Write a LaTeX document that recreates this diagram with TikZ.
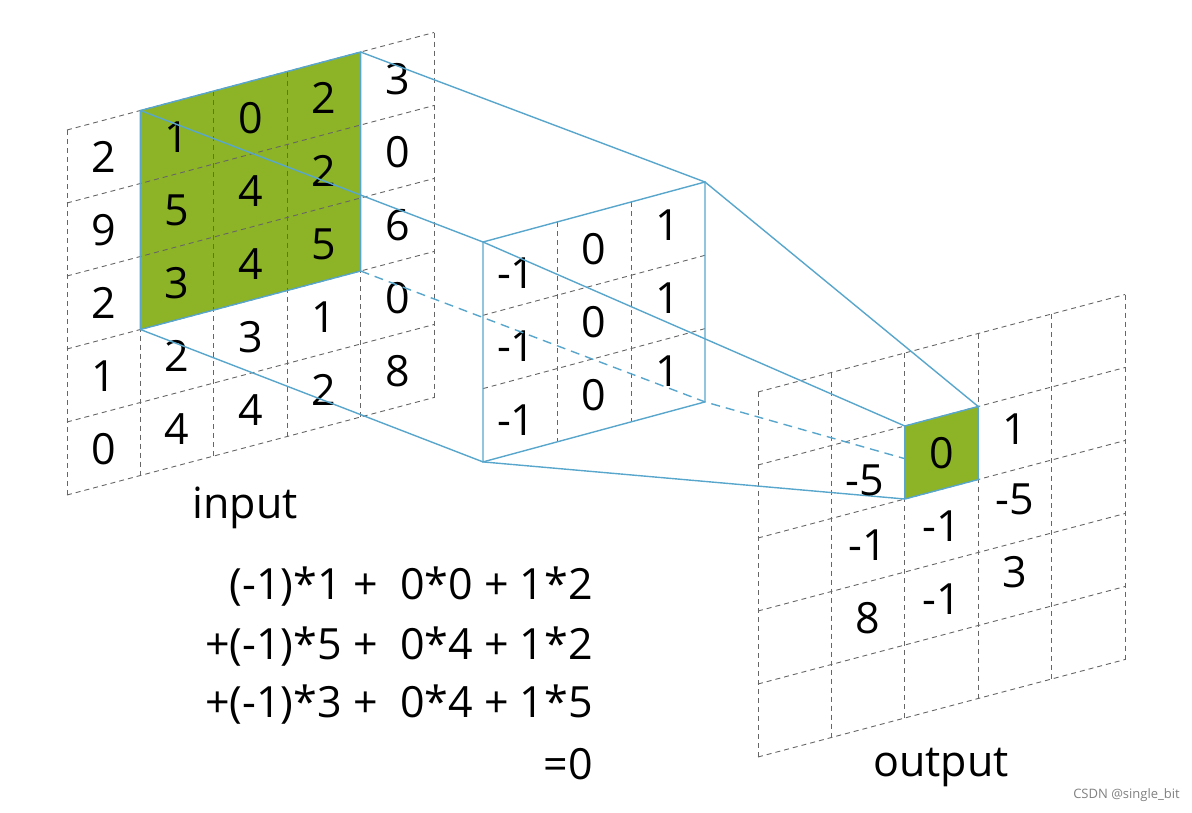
\documentclass[tikz,border=0pt]{standalone}
\usepackage{fontspec}
\setmainfont{Open Sans}
\begin{document}
\begin{tikzpicture}[x=1pt,y=1pt,
  grid/.style={gray!80!black,dash pattern=on 5pt off 4pt,line width=0.9pt},
  num/.style={font=\fontsize{43}{46}\selectfont,inner sep=0pt},
  lab/.style={font=\fontsize{43}{46}\selectfont,inner sep=0pt}]
\definecolor{lg}{RGB}{141,180,38}
\definecolor{lb}{RGB}{88,166,204}
\tikzset{conn/.style={draw=lb,line width=1.4pt},hid/.style={conn,dash pattern=on 9pt off 6pt}}
\useasboundingbox (0,0) rectangle (1192,-812);
% coordinate helpers
\def\I(#1,#2){({67+73.4*(#1)},{-(130-19.5*(#1)+73*(#2))})}
\def\K(#1,#2){({483+74*(#1)},{-(242-20*(#1)+73.3*(#2))})}
\def\O(#1,#2){({758+73.4*(#1)},{-(392-19.5*(#1)+73*(#2))})}
% input green
\fill[lg] \I(1,0) -- \I(4,0) -- \I(4,3) -- \I(1,3) -- cycle;
\foreach \k in {0,...,5}{
  \draw[grid] \I(\k,0) -- \I(\k,5);
  \draw[grid] \I(0,\k) -- \I(5,\k);
}
\path \I(1,0) coordinate (iTL) \I(4,0) coordinate (iTR)
      \I(1,3) coordinate (iBL) \I(4,3) coordinate (iBR);
\draw[conn] (iTL) -- (iTR) -- (iBR) -- (iBL) -- cycle;
% input numbers
\foreach \r/\vals in {0/{2,1,0,2,3},1/{9,5,4,2,0},2/{2,3,4,5,6},3/{1,2,3,1,0},4/{0,4,4,2,8}}{
  \foreach \v [count=\c from 0] in \vals {
    \path \I(\c+0.5,\r+0.5) node[num] (in\r\c) {\v};
  }
}
% kernel
\path \K(0,0) coordinate (kTL) \K(3,0) coordinate (kTR)
      \K(0,3) coordinate (kBL) \K(3,3) coordinate (kBR);
\foreach \k in {1,2}{
  \draw[grid] \K(\k,0) -- \K(\k,3);
  \draw[grid] \K(0,\k) -- \K(3,\k);
}
\foreach \r in {0,1,2}{
  \path \K(0.45,\r+0.55) node[num] (k\r0) {-1};
  \path \K(1.5,\r+0.5) node[num] (k\r1) {0};
  \path \K(2.5,\r+0.45) node[num] (k\r2) {1};
}
\draw[conn] (kTL) -- (kTR) -- (kBR) -- (kBL) -- cycle;
% output grid
\path \O(2,1) coordinate (oTL) \O(3,1) coordinate (oTR)
      \O(2,2) coordinate (oBL) \O(3,2) coordinate (oBR);
\foreach \k in {0,...,5}{
  \draw[grid] \O(\k,0) -- \O(\k,5);
  \draw[grid] \O(0,\k) -- \O(5,\k);
}
% connectors
\draw[conn] (iTL) -- (kTL) -- (oTL);
\draw[conn] (iTR) -- (kTR) -- (oTR);
\draw[conn] (iBL) -- (kBL) -- (oBL);
\draw[hid] (iBR) -- (kBR) -- (oBR);
\fill[lg] (oTL) -- (oTR) -- (oBR) -- (oBL) -- cycle;
\draw[conn] (oTL) -- (oTR) -- (oBR) -- (oBL) -- cycle;
% output numbers
\path \O(1.45,1.6) node[num] (o11) {-5};
\path \O(2.5,1.5) node[num] (o12) {0};
\path \O(3.5,1.45) node[num] (o13) {1};
\path \O(1.5,2.5) node[num] (o21) {-1};
\path \O(2.5,2.5) node[num] (o22) {-1};
\path \O(3.5,2.4) node[num] (o23) {-5};
\path \O(1.5,3.5) node[num] (o31) {8};
\path \O(2.5,3.5) node[num] (o32) {-1};
\path \O(3.5,3.4) node[num] (o33) {3};
% labels
\node[lab] (lin) at (245,-508) {input};
\node[lab] (lout) at (941,-767) {output};
\node[lab,anchor=east] (f1) at (593,-587) {(-1)*1 +\ \ 0*0 + 1*2};
\node[lab,anchor=east] (f2) at (593,-647) {+(-1)*5 +\ \ 0*4 + 1*2};
\node[lab,anchor=east] (f3) at (593,-705) {+(-1)*3 +\ \ 0*4 + 1*5};
\node[lab,anchor=east] (f4) at (593,-764) {=0};
\node[font=\fontsize{13}{15}\selectfont,text=gray,anchor=east,inner sep=0pt] (wm) at (1180,-795) {CSDN @single\_bit};
\end{tikzpicture}
\end{document}
